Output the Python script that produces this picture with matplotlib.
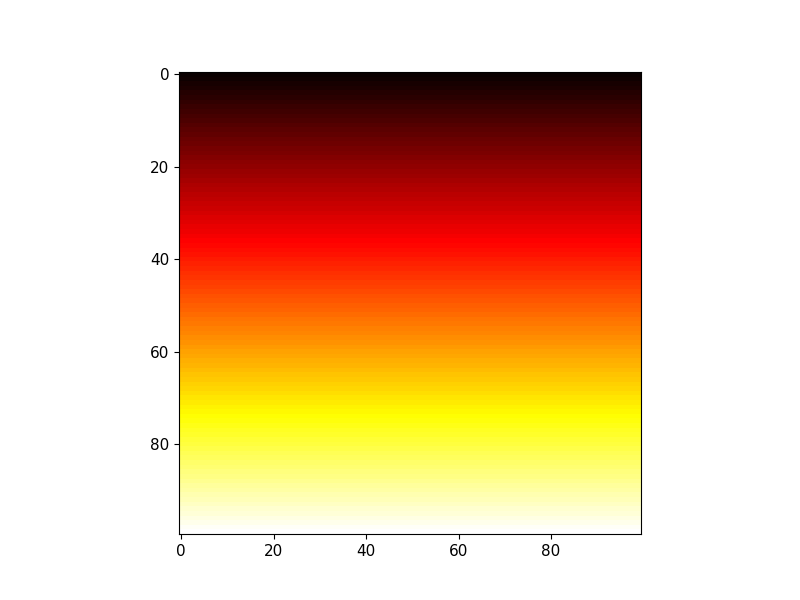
import numpy as np
import matplotlib
matplotlib.use("Agg")
import matplotlib.pyplot as plt

# value of each image row (same across all 100 columns)
row_values = [
    0, 1, 2, 3, 4, 5, 6, 7, 8, 9,
    10, 11, 12, 13, 14, 15, 16, 17, 18, 19,
    20, 21, 22, 23, 24, 25, 26, 27, 28, 29,
    30, 31, 32, 33, 34, 35, 36, 37, 38, 39,
    40, 41, 42, 43, 44, 45, 46, 47, 48, 49,
    50, 51, 52, 53, 54, 55, 56, 57, 58, 59,
    60, 61, 62, 63, 64, 65, 66, 67, 68, 69,
    70, 71, 72, 73, 74, 75, 76, 77, 78, 79,
    80, 81, 82, 83, 84, 85, 86, 87, 88, 89,
    90, 91, 92, 93, 94, 95, 96, 97, 98, 99,
]
n_cols = 100

grid = np.tile(np.array(row_values, dtype=float)[:, None], (1, n_cols))

fig, ax = plt.subplots(figsize=(8, 6), dpi=100)
ax.imshow(grid, cmap="hot")
ax.tick_params(labelsize=11)
fig.savefig("out.png")
